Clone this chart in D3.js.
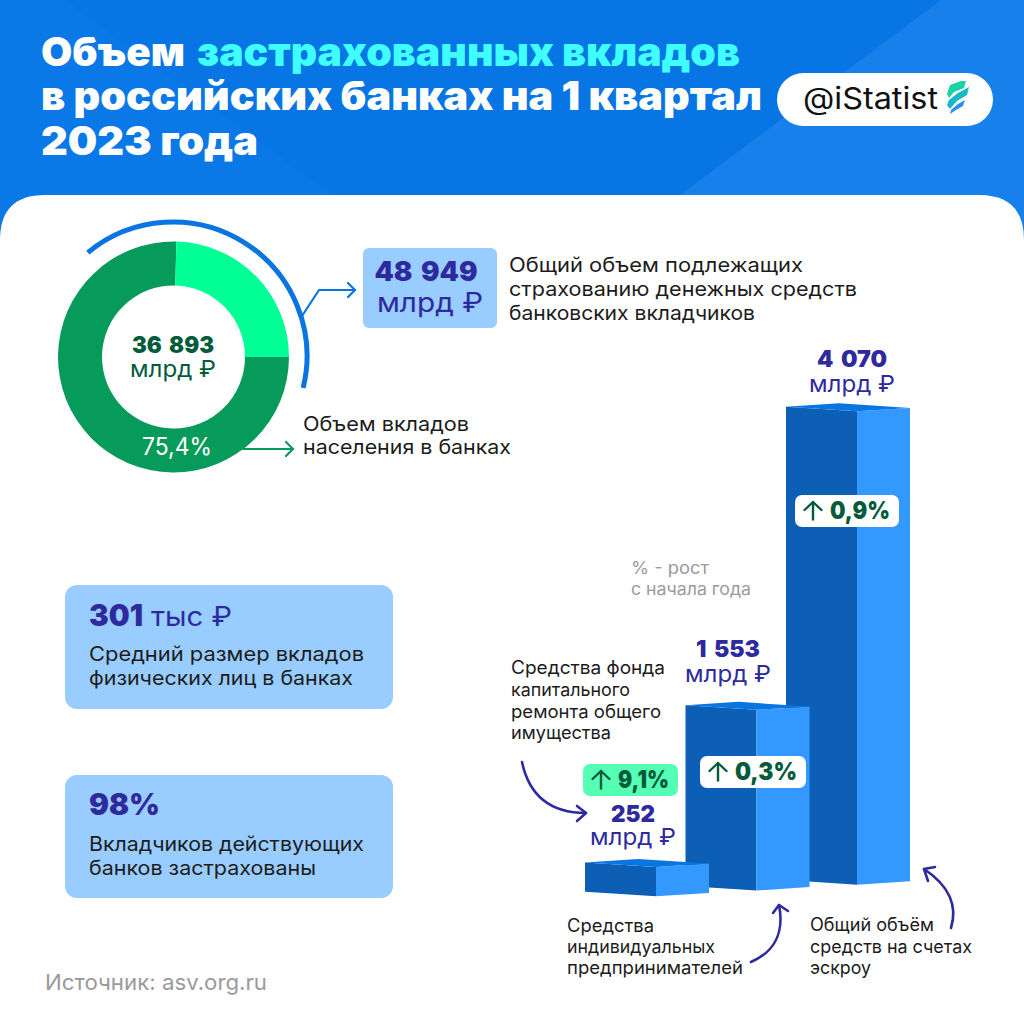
<!DOCTYPE html>
<html lang="ru">
<head>
<meta charset="utf-8">
<title>Объем застрахованных вкладов</title>
<script src="https://cdn.jsdelivr.net/npm/d3@7"></script>
<style>
html,body{margin:0;padding:0;background:#fff}
svg{display:block}
text{font-family:Inter,"Noto Sans",sans-serif}
</style>
</head>
<body>
<svg id="chart" width="1024" height="1024" viewBox="0 0 1024 1024"></svg>
<script>
// ---- data ----
const titleLines = [
  [["Объем ", "w"], ["застрахованных вкладов", "c"]],
  [["в российских банках на 1 квартал", "w"]],
  [["2023 года", "w"]]
];
const brand = "@iStatist";
const donutCategories = ["Вклады населения", "Прочие средства"];
const donutValues = [75.4, 24.6];
const donutCentre = 36893;
const totalInsured = 48949;
const unit = "млрд ₽";
const totalCaption = ["Общий объем подлежащих", "страхованию денежных средств", "банковских вкладчиков"];
const depositsCaption = ["Объем вкладов", "населения в банках"];
const avgDeposit = 301;
const avgCaption = ["Средний размер вкладов", "физических лиц в банках"];
const coveredShare = 98;
const coveredCaption = ["Вкладчиков действующих", "банков застрахованы"];
const barCategories = ["Средства индивидуальных предпринимателей", "Средства фонда капитального ремонта", "Счета эскроу"];
const barValues = [252, 1553, 4070];
const barGrowth = [9.1, 0.3, 0.9];
const growthNote = ["% - рост", "с начала года"];
const fundCaption = ["Средства фонда", "капитального", "ремонта общего", "имущества"];
const entrepreneursCaption = ["Средства", "индивидуальных", "предпринимателей"];
const escrowCaption = ["Общий объём", "средств на счетах", "эскроу"];
const source = "Источник: asv.org.ru";

// ---- helpers ----
const ru = d3.formatLocale({decimal: ",", thousands: "\u00a0", grouping: [3], currency: ["", " ₽"]});
const fmtInt = ru.format(",d");
const fmtPct = ru.format(".1f");
const C = {blue: "#0775e3", cyan: "#3fffff", ink: "#1c1c1c", purple: "#2e2a9e", teal: "#045b3c",
  dark: "#069b5b", light: "#00ff94", card: "#99ccff", grey: "#9a9a9a",
  left: "#0d5fb5", right: "#3399ff", top: "#0875e1"};

const svg = d3.select("#chart");
function style(el, o) {
  el.attr("font-size", o.size || 20).attr("font-weight", o.weight || 400)
    .attr("fill", o.fill || C.ink).attr("text-anchor", o.anchor || "start");
  if (o.w) el.attr("textLength", o.w).attr("lengthAdjust", "spacingAndGlyphs");
  if (o.ws) el.attr("word-spacing", o.ws);
  return el;
}
function label(x, y, str, o = {}) {
  return style(svg.append("text").attr("x", x).attr("y", y).text(str), o);
}
function lines(x, ys, arr, widths, o) {
  arr.forEach((s, i) => label(x, ys[i], s, Object.assign({}, o, {w: widths && widths[i]})));
}

// ---- header ----
svg.append("rect").attr("width", 1024).attr("height", 240).attr("fill", C.blue);
svg.append("path").attr("d", "M0 0H65L333 195V240H0Z").attr("fill", "#0a78e6");
svg.append("path").attr("d", "M941 0H1024V240H620Z").attr("fill", "#1780ea");
svg.append("path").attr("d", "M0 1024V240Q0 195 45 195H979Q1024 195 1024 240V1024Z").attr("fill", "#fff");

const titleBase = [66, 110, 155];
const titleWidths = [[144, 543], [721], [217]];
const titleX = [[41, 197], [41], [41]];
titleLines.forEach((ln, i) => ln.forEach((seg, j) =>
  label(titleX[i][j], titleBase[i], seg[0].trimEnd(), {size: 40, weight: 900, fill: seg[1] === "c" ? C.cyan : "#fff", w: titleWidths[i][j]})));

svg.append("rect").attr("x", 777).attr("y", 73).attr("width", 216).attr("height", 53).attr("rx", 26.5).attr("fill", "#fff");
label(803, 109, brand, {size: 30, fill: "#111", w: 135});
const leaf = svg.append("g");
leaf.append("path").attr("d", "M950 85L961 81H966L964 88L954 92L949 98L947 94Z").attr("fill", "#19d3a2");
leaf.append("path").attr("d", "M949 100L958 93L969 87L967 95L957 101L950 109L947 105Z").attr("fill", "#17b8c8");
leaf.append("path").attr("d", "M951 110L958 104L965 100L963 106L956 110L950 114Z").attr("fill", "#2e8df2");

// ---- donut ----
const donutG = svg.append("g").attr("transform", "translate(173.5,357)");
const pie = d3.pie().sort(null).startAngle(Math.PI / 2).endAngle(Math.PI * 2.5);
const arc = d3.arc().innerRadius(71.5).outerRadius(115.5);
donutG.selectAll("path").data(pie(donutValues)).join("path")
  .attr("d", arc).attr("fill", (d, i) => [C.dark, C.light][i]);

svg.append("path").attr("transform", "translate(173,356)")
  .attr("d", d3.arc()({innerRadius: 134, outerRadius: 134, startAngle: -39.5 * Math.PI / 180, endAngle: 103.8 * Math.PI / 180}))
  .attr("fill", "none").attr("stroke", C.top).attr("stroke-width", 5);

label(173, 353, fmtInt(donutCentre), {size: 23, weight: 900, fill: C.teal, anchor: "middle", w: 82, ws: 3});
label(173, 377, unit, {size: 23, fill: C.teal, anchor: "middle", w: 86});
label(177, 455, fmtPct(donutValues[0]) + "%", {size: 24, fill: "#fff", anchor: "middle", w: 70});

function polyline(pts, stroke, sw) {
  return svg.append("path").attr("d", d3.line()(pts)).attr("fill", "none").attr("stroke", stroke)
    .attr("stroke-width", sw).attr("stroke-linejoin", "round").attr("stroke-linecap", "round");
}
polyline([[302, 316], [319, 290], [355, 290]], C.top, 2.2);
polyline([[348, 283], [355, 290], [348, 297]], C.top, 2.2);
polyline([[243, 449], [293, 449]], C.dark, 2.2);
polyline([[286, 442], [293, 449], [286, 456]], C.dark, 2.2);

svg.append("rect").attr("x", 363).attr("y", 248).attr("width", 134).attr("height", 80).attr("rx", 6).attr("fill", C.card);
label(426, 281, fmtInt(totalInsured), {size: 27, weight: 900, fill: C.purple, anchor: "middle", w: 103, ws: 3});
label(430, 312, unit, {size: 27, fill: C.purple, anchor: "middle", w: 106});
lines(509, [272, 296, 320], totalCaption, [294, 348, 246], {size: 20});
lines(303, [431, 454], depositsCaption, [166, 208], {size: 20});

// ---- stat cards ----
svg.append("rect").attr("x", 65).attr("y", 585).attr("width", 328).attr("height", 124).attr("rx", 12).attr("fill", C.card);
label(89, 626, fmtInt(avgDeposit), {size: 30, weight: 900, fill: C.purple, w: 54});
label(151, 626, "тыс ₽", {size: 27, fill: C.purple, w: 81});
lines(89, [661, 685], avgCaption, [275, 264], {size: 20});
svg.append("rect").attr("x", 65).attr("y", 775).attr("width", 328).attr("height", 123).attr("rx", 12).attr("fill", C.card);
label(89, 815, coveredShare + "%", {size: 30, weight: 900, fill: C.purple, w: 71});
lines(89, [851, 875], coveredCaption, [275, 227], {size: 20});

// ---- 3-D bars ----
const x = d3.scalePoint().domain(barCategories).range([656, 857]);
const base = d3.scalePoint().domain(barCategories).range([896.3, 884.7]);
const h = d3.scaleLinear().domain([0, 4070]).range([0, 473.4]);
const barData = barCategories.map((c, i) => ({c, v: barValues[i]}));
const bars = svg.append("g").selectAll("g").data(barData.slice().reverse()).join("g");
const L = [-71, -4.6], R = [53, -3.4];
bars.append("path").attr("fill", C.left).attr("d", d => {
  const X = x(d.c), B = base(d.c), T = B - h(d.v);
  return d3.line()([[X, B], [X + L[0], B + L[1]], [X + L[0], T + L[1]], [X, T]]) + "Z";
});
bars.append("path").attr("fill", C.right).attr("d", d => {
  const X = x(d.c), B = base(d.c), T = B - h(d.v);
  return d3.line()([[X, B], [X + R[0], B + R[1]], [X + R[0], T + R[1]], [X, T]]) + "Z";
});
bars.append("path").attr("fill", C.top).attr("d", d => {
  const X = x(d.c), T = base(d.c) - h(d.v);
  return d3.line()([[X, T], [X + L[0], T + L[1]], [X - 18, T - 8], [X + R[0], T + R[1]]]) + "Z";
});

const valX = [633, 728, 852], valY = [822, 657, 367], unitY = [845, 682, 392];
const valW = [44, 64, 70];
barValues.forEach((v, i) => {
  label(valX[i], valY[i], fmtInt(v), {size: 23, weight: 900, fill: C.purple, anchor: "middle", w: valW[i], ws: 3});
  label(valX[i], unitY[i], unit, {size: 23, fill: C.purple, anchor: "middle", w: 86});
});

const badge = [[583, 764, 95, "#55ffb4", 51], [700, 756, 106, "#fff", 62], [795, 495, 104, "#fff", 60]];
barGrowth.forEach((g, i) => {
  const [bx, by, bw, fill, tw] = badge[i];
  svg.append("rect").attr("x", bx).attr("y", by).attr("width", bw).attr("height", 32).attr("rx", 7).attr("fill", fill);
  const ax = bx + 18;
  polyline([[ax, by + 7], [ax, by + 24.5]], C.teal, 2.4);
  polyline([[ax - 8.5, by + 15], [ax, by + 7], [ax + 8.5, by + 15]], C.teal, 2.4);
  label(bx + 35, by + 23.5, fmtPct(g) + "%", {size: 24, weight: 900, fill: C.teal, w: tw});
});

lines(631, [574, 595], growthNote, [78, 120], {size: 17, fill: C.grey});
lines(511, [674, 696, 718, 739], fundCaption, [154, 119, 150, 100], {size: 18});
lines(567, [932, 953, 974], entrepreneursCaption, [87, 148, 176], {size: 18});
lines(810, [931, 953, 974], escrowCaption, [124, 162, 61], {size: 18});

// ---- curved pointers ----
function curve(d, head) {
  svg.append("path").attr("d", d).attr("fill", "none").attr("stroke", C.purple).attr("stroke-width", 2.6).attr("stroke-linecap", "round");
  polyline(head, C.purple, 2.6);
}
curve("M522 762C529 795 550 813 586 813", [[577, 806], [586, 813], [577, 821]]);
curve("M751 962C772 953 785 935 779 905", [[773, 913], [779, 905], [788, 911]]);
curve("M951 928C958 905 948 885 924 869", [[935, 867], [924, 869], [928, 881]]);

label(45, 990, source, {size: 22, fill: C.grey, w: 222});
</script>
</body>
</html>
